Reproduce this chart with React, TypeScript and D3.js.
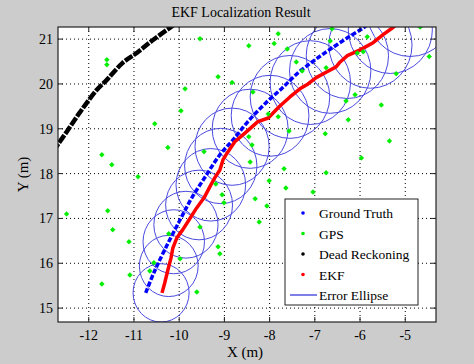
import React from 'react';
import * as d3 from 'd3';

const W = 474;
const H = 364;

const xTicks = [-12, -11, -10, -9, -8, -7, -6, -5];
const yTicks = [15, 16, 17, 18, 19, 20, 21];

const truthX = [-10.74, -10.56, -10.32, -9.98, -9.72, -9.41, -9.1, -8.81, -8.48, -8.1, -7.72, -7.37, -7.06, -6.71, -6.31, -5.93, -5.75];
const truthY = [15.34, 15.79, 16.3, 16.97, 17.46, 17.95, 18.42, 18.75, 19.16, 19.56, 19.91, 20.25, 20.49, 20.74, 21.01, 21.25, 21.4];

const ekfX = [-10.38, -10.32, -10.25, -10.18, -10.14, -10.05, -9.92, -9.78, -9.61, -9.45, -9.32, -9.21, -9.1, -9.03, -8.92, -8.77, -8.54, -8.26, -8.03, -7.79, -7.55, -7.33, -7.15, -6.97, -6.73, -6.53, -6.44, -6.28, -6.0, -5.71, -5.49, -5.31, -5.22];
const ekfY = [15.34, 15.56, 15.85, 16.12, 16.34, 16.57, 16.75, 16.97, 17.24, 17.46, 17.71, 17.91, 18.08, 18.31, 18.49, 18.71, 18.91, 19.16, 19.24, 19.49, 19.71, 19.89, 20.0, 20.14, 20.27, 20.38, 20.49, 20.63, 20.76, 20.92, 21.1, 21.23, 21.3];

const drX = [-12.78, -12.69, -12.49, -12.2, -11.82, -11.6, -11.25, -10.94, -10.58, -10.21, -10.0];
const drY = [18.5, 18.64, 18.93, 19.36, 19.87, 20.09, 20.47, 20.69, 20.98, 21.25, 21.4];

const gpsX = [-9.54, -11.6, -11.6, -9.14, -8.83, -9.87, -9.96, -10.54, -10.25, -11.71, -11.49, -10.91, -9.45, -7.81, -8.46, -7.9, -7.61, -6.62, -7.41, -7.28, -6.75, -5.84, -5.93, -6.06, -4.67, -4.47, -5.2, -8.37, -8.03, -7.81, -7.57, -6.31, -6.11, -5.53, -6.26, -6.77, -5.35, -5.97, -7.68, -6.75, -8.46, -8.39, -8.43, -12.49, -11.58, -11.47, -11.11, -11.71, -11.09, -10.23, -9.98, -10.56, -10.65, -9.61, -9.54, -9.14, -9.1, -9.19, -9.05, -9.01, -8.01, -7.64, -7.04, -8.32, -8.06, -8.23, -6.66];
const gpsY = [21.01, 20.54, 20.43, 20.16, 20.03, 19.89, 19.4, 19.11, 18.58, 18.42, 18.2, 17.93, 18.49, 21.12, 20.85, 20.9, 20.78, 21.23, 20.49, 20.29, 20.36, 21.05, 20.72, 20.69, 21.27, 20.61, 20.23, 19.82, 19.33, 19.27, 18.95, 19.62, 19.76, 19.53, 19.2, 18.89, 18.73, 18.35, 18.11, 18.02, 18.82, 18.64, 18.26, 17.1, 17.17, 16.75, 16.48, 15.54, 15.74, 16.66, 16.1, 16.01, 15.83, 15.36, 16.81, 16.37, 16.21, 17.77, 17.53, 17.35, 17.84, 17.68, 17.59, 17.44, 17.28, 16.92, 20.96];

const ellX = [-10.4, -10.23, -10.12, -9.85, -9.56, -9.3, -9.08, -8.83, -8.43, -7.99, -7.55, -7.1, -6.66, -6.28, -5.77, -5.33, -4.89];
const ellY = [15.34, 15.94, 16.48, 16.86, 17.3, 17.75, 18.17, 18.6, 19.0, 19.29, 19.71, 20.03, 20.29, 20.63, 20.87, 21.21, 21.61];
const ellR = [0.62, 0.65, 0.68, 0.71, 0.74, 0.77, 0.8, 0.82, 0.84, 0.86, 0.88, 0.89, 0.9, 0.91, 0.92, 0.93, 0.95];

const legendItems = ['Ground Truth', 'GPS', 'Dead Reckoning', 'EKF', 'Error Ellipse'];
const legendColors = ['#0000ff', '#00ee00', '#000000', '#ff0000', '#5555e0'];

export default function App() {
  const m = { left: 58, top: 27, right: 436, bottom: 322 };
  const x = d3.scaleLinear().domain([-12.68, -4.32]).range([m.left, m.right]);
  const y = d3.scaleLinear().domain([14.69, 21.27]).range([m.bottom, m.top]);

  const mk = (xs: number[], ys: number[], curve = d3.curveCatmullRom) =>
    d3.line<number>().x((_, i) => x(xs[i])).y((_, i) => y(ys[i])).curve(curve)(xs) || '';

  const font = '"Liberation Serif", "DejaVu Serif", serif';
  const tl = 5;

  return (
    <svg width={W} height={H} style={{ position: 'absolute', left: 0, top: 0, fontFamily: font }}>
      <rect width={W} height={H} fill="#cccccc" />
      <defs>
        <clipPath id="plot">
          <rect x={m.left} y={m.top} width={m.right - m.left} height={m.bottom - m.top} />
        </clipPath>
      </defs>
      <rect x={m.left} y={m.top} width={m.right - m.left} height={m.bottom - m.top} fill="#fff" />
      {xTicks.map((t) => (
        <line key={'gx' + t} x1={x(t)} x2={x(t)} y1={m.top} y2={m.bottom} stroke="#000" strokeWidth={1} strokeDasharray="1,3" />
      ))}
      {yTicks.map((t) => (
        <line key={'gy' + t} x1={m.left} x2={m.right} y1={y(t)} y2={y(t)} stroke="#000" strokeWidth={1} strokeDasharray="1,3" />
      ))}
      <g clipPath="url(#plot)">
        {ellX.map((cx, i) => (
          <ellipse key={'e' + i} cx={x(cx)} cy={y(ellY[i])} rx={x(cx + ellR[i]) - x(cx)} ry={y(ellY[i]) - y(ellY[i] + ellR[i] * 1.05)} fill="none" stroke="#4a4ae0" strokeWidth={1} />
        ))}
        <path d={mk(drX, drY)} fill="none" stroke="#000" strokeWidth={4.5} strokeDasharray="9,1.5" />
        <path d={mk(truthX, truthY)} fill="none" stroke="#0000ff" strokeWidth={3.5} strokeDasharray="5,2" />
        <path d={mk(ekfX, ekfY, d3.curveLinear)} fill="none" stroke="#ff0000" strokeWidth={3.5} strokeLinejoin="round" />
        {gpsX.map((gx, i) => (
          <g key={'g' + i} transform={`translate(${x(gx)},${y(gpsY[i])})`}>
            <circle r={2} fill="#00ee00" />
            <path d="M-2.5,0H2.5M0,-2.5V2.5" stroke="#00ee00" strokeWidth={1} />
          </g>
        ))}
      </g>
      <rect x={m.left} y={m.top} width={m.right - m.left} height={m.bottom - m.top} fill="none" stroke="#222" strokeWidth={1.2} />
      {xTicks.map((t) => (
        <g key={'tx' + t}>
          <line x1={x(t)} x2={x(t)} y1={m.bottom} y2={m.bottom - tl} stroke="#222" />
          <line x1={x(t)} x2={x(t)} y1={m.top} y2={m.top + tl} stroke="#222" />
          <text x={x(t)} y={m.bottom + 18} textAnchor="middle" fontSize={14} fill="#000">{t}</text>
        </g>
      ))}
      {yTicks.map((t) => (
        <g key={'ty' + t}>
          <line x1={m.left} x2={m.left + tl} y1={y(t)} y2={y(t)} stroke="#222" />
          <line x1={m.right} x2={m.right - tl} y1={y(t)} y2={y(t)} stroke="#222" />
          <text x={m.left - 5} y={y(t) + 5} textAnchor="end" fontSize={14} fill="#000">{t}</text>
        </g>
      ))}
      <text x={241} y={17} textAnchor="middle" fontSize={14} fill="#000">EKF Localization Result</text>
      <text x={245} y={357} textAnchor="middle" fontSize={15} fill="#000">X (m)</text>
      <text transform={`translate(28,${(m.top + m.bottom) / 2}) rotate(-90)`} textAnchor="middle" fontSize={15} fill="#000">Y (m)</text>
      <g>
        <rect x={285} y={199} width={133} height={106} fill="#fff" stroke="#222" strokeWidth={1} />
        {legendItems.map((name, i) => {
          const ly = 213 + i * 20.5;
          return (
            <g key={name}>
              {i < 4 ? (
                <circle cx={303} cy={ly} r={1.8} fill={legendColors[i]} />
              ) : (
                <line x1={290} x2={317} y1={ly} y2={ly} stroke={legendColors[i]} strokeWidth={1.5} />
              )}
              <text x={319} y={ly + 5} fontSize={13.5} fill="#000">{name}</text>
            </g>
          );
        })}
      </g>
    </svg>
  );
}
